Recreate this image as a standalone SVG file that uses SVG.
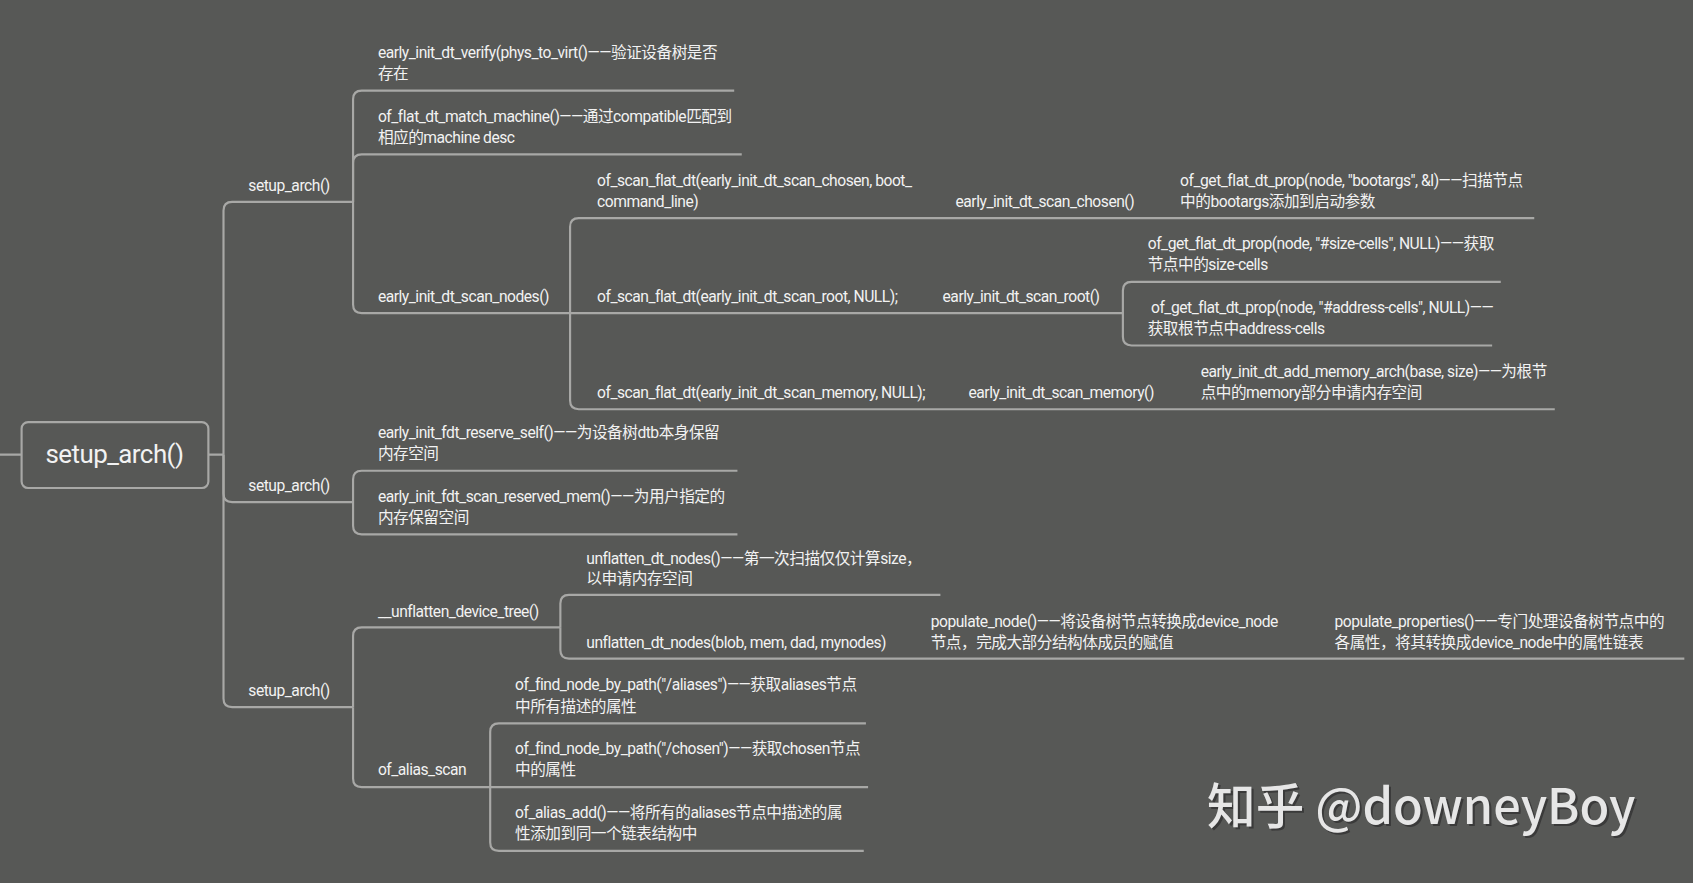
<svg xmlns="http://www.w3.org/2000/svg" width="1693" height="883" viewBox="0 0 1693 883">
<style>
.t{font-family:Roboto,"Noto Sans CJK SC",sans-serif;font-size:14.5px;fill:#f2f2f2;letter-spacing:-0.45px}
.c path{fill:none;stroke:#a8a8a6;stroke-width:2}
</style>
<rect width="1693" height="883" fill="#575856"/>
<g transform="scale(1.0797)">
<g class="c" id="connectors">
<path d="M0,421H20M193,421H207"/>
<path d="M207,421V195Q207,187 215,187H327"/>
<path d="M207,421V457Q207,465 215,465H327"/>
<path d="M207,421V647Q207,655 215,655H327"/>
<path d="M327,187V92Q327,84 335,84H680"/>
<path d="M327,187V151Q327,143 335,143H687"/>
<path d="M327,187V282Q327,290 335,290H528"/>
<path d="M528,290V210Q528,202 536,202H1421"/>
<path d="M528,290H1040"/>
<path d="M528,290V371Q528,379 536,379H1440"/>
<path d="M1040,290V269Q1040,261 1048,261H1390"/>
<path d="M1040,290V312Q1040,320 1048,320H1382"/>
<path d="M327,465V444Q327,436 335,436H683"/>
<path d="M327,465V487Q327,495 335,495H683"/>
<path d="M327,655V589Q327,581 335,581H519"/>
<path d="M327,655V721Q327,729 335,729H454"/>
<path d="M519,581V559Q519,551 527,551H871"/>
<path d="M519,581V602Q519,610 527,610H1560"/>
<path d="M454,729V678Q454,670 462,670H802"/>
<path d="M454,729H804"/>
<path d="M454,729V780Q454,788 462,788H800"/>
</g>
<g id="root"><rect x="20" y="391" width="173" height="61" rx="6" fill="#575856" stroke="#a8a8a6" stroke-width="2"/><text class="t" x="106" y="429" text-anchor="middle" style="font-size:24px;letter-spacing:-0.5px">setup_arch()</text></g>
<g id="b1"><text class="t" x="230" y="177">setup_arch()</text></g>
<g id="n1"><text class="t" x="350" y="54">early_init_dt_verify(phys_to_virt()——验证设备树是否</text><text class="t" x="350" y="73">存在</text></g>
<g id="n2"><text class="t" x="350" y="113">of_flat_dt_match_machine()——通过compatible匹配到</text><text class="t" x="350" y="132">相应的machine desc</text></g>
<g id="n3"><text class="t" x="350" y="280">early_init_dt_scan_nodes()</text></g>
<g id="n4"><text class="t" x="553" y="172">of_scan_flat_dt(early_init_dt_scan_chosen, boot_</text><text class="t" x="553" y="192">command_line)</text></g>
<g id="n5"><text class="t" x="885" y="192">early_init_dt_scan_chosen()</text></g>
<g id="n6"><text class="t" x="1093" y="172">of_get_flat_dt_prop(node, "bootargs", &amp;l)——扫描节点</text><text class="t" x="1093" y="192">中的bootargs添加到启动参数</text></g>
<g id="n7"><text class="t" x="553" y="280">of_scan_flat_dt(early_init_dt_scan_root, NULL);</text></g>
<g id="n8"><text class="t" x="873" y="280">early_init_dt_scan_root()</text></g>
<g id="n9"><text class="t" x="1063" y="231">of_get_flat_dt_prop(node, "#size-cells", NULL)——获取</text><text class="t" x="1063" y="250">节点中的size-cells</text></g>
<g id="n10"><text class="t" x="1066" y="290">of_get_flat_dt_prop(node, "#address-cells", NULL)——</text><text class="t" x="1063" y="309">获取根节点中address-cells</text></g>
<g id="n11"><text class="t" x="553" y="369">of_scan_flat_dt(early_init_dt_scan_memory, NULL);</text></g>
<g id="n12"><text class="t" x="897" y="369">early_init_dt_scan_memory()</text></g>
<g id="n13"><text class="t" x="1112" y="349">early_init_dt_add_memory_arch(base, size)——为根节</text><text class="t" x="1112" y="369">点中的memory部分申请内存空间</text></g>
<g id="b2"><text class="t" x="230" y="455">setup_arch()</text></g>
<g id="n14"><text class="t" x="350" y="406">early_init_fdt_reserve_self()——为设备树dtb本身保留</text><text class="t" x="350" y="425">内存空间</text></g>
<g id="n15"><text class="t" x="350" y="465">early_init_fdt_scan_reserved_mem()——为用户指定的</text><text class="t" x="350" y="484">内存保留空间</text></g>
<g id="b3"><text class="t" x="230" y="645">setup_arch()</text></g>
<g id="n16"><text class="t" x="350" y="571">__unflatten_device_tree()</text></g>
<g id="n17"><text class="t" x="543" y="522">unflatten_dt_nodes()——第一次扫描仅仅计算size，</text><text class="t" x="543" y="541">以申请内存空间</text></g>
<g id="n18"><text class="t" x="543" y="600">unflatten_dt_nodes(blob, mem, dad, mynodes)</text></g>
<g id="n19"><text class="t" x="862" y="581">populate_node()——将设备树节点转换成device_node</text><text class="t" x="862" y="600">节点，完成大部分结构体成员的赋值</text></g>
<g id="n20"><text class="t" x="1236" y="581">populate_properties()——专门处理设备树节点中的</text><text class="t" x="1236" y="600">各属性，将其转换成device_node中的属性链表</text></g>
<g id="n21"><text class="t" x="350" y="718">of_alias_scan</text></g>
<g id="n22"><text class="t" x="477" y="639">of_find_node_by_path("/aliases")——获取aliases节点</text><text class="t" x="477" y="659">中所有描述的属性</text></g>
<g id="n23"><text class="t" x="477" y="698">of_find_node_by_path("/chosen")——获取chosen节点</text><text class="t" x="477" y="718">中的属性</text></g>
<g id="n24"><text class="t" x="477" y="758">of_alias_add()——将所有的aliases节点中描述的属</text><text class="t" x="477" y="777">性添加到同一个链表结构中</text></g>
<text x="1120" y="765" style="font-family:'Noto Sans CJK SC',sans-serif;font-size:45px;font-weight:500;fill:#3a3a3a">知乎 @downeyBoy</text>
<text x="1118" y="763" style="font-family:'Noto Sans CJK SC',sans-serif;font-size:45px;font-weight:500;fill:#e6e6e6">知乎 @downeyBoy</text>
</g>
</svg>
